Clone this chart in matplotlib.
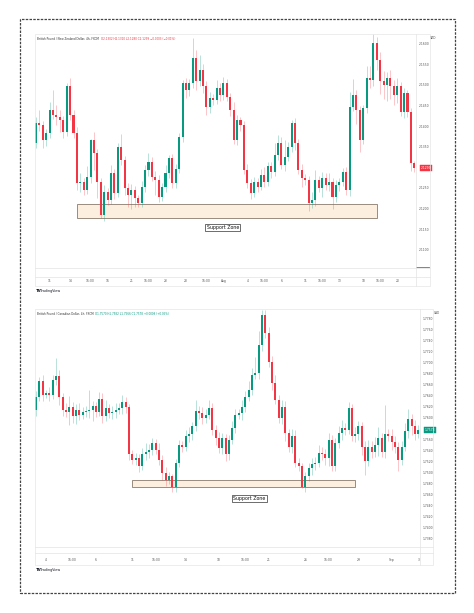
import matplotlib.pyplot as plt
import numpy as np
from matplotlib.patches import Rectangle
from matplotlib.transforms import blended_transform_factory

# ---- GBP/NZD 4h ----
open1 = 2.1358
close1 = [2.1408, 2.1403, 2.1366, 2.1382, 2.1439, 2.1427, 2.1423, 2.1415, 2.1386, 2.1496,
          2.1427, 2.1382, 2.1261, 2.1265, 2.1245, 2.1277, 2.1366, 2.1334, 2.1265, 2.1184,
          2.1241, 2.1221, 2.1285, 2.1237, 2.1350, 2.1318, 2.1249, 2.1233, 2.1245, 2.1225,
          2.1213, 2.1253, 2.1293, 2.1314, 2.1277, 2.1269, 2.1229, 2.1253, 2.1285, 2.1322,
          2.1261, 2.1297, 2.1374, 2.1504, 2.1488, 2.1504, 2.1564, 2.1508, 2.1536, 2.1496,
          2.1447, 2.1467, 2.1463, 2.1492, 2.1475, 2.1504, 2.1471, 2.1439, 2.1366, 2.1415,
          2.1403, 2.1293, 2.1261, 2.1237, 2.1265, 2.1253, 2.1281, 2.1265, 2.1302, 2.1289,
          2.1330, 2.1358, 2.1306, 2.1326, 2.1350, 2.1407, 2.1358, 2.1293, 2.1273, 2.1269,
          2.1213, 2.1221, 2.1269, 2.1249, 2.1273, 2.1257, 2.1265, 2.1229, 2.1257, 2.1265,
          2.1289, 2.1245, 2.1447, 2.1475, 2.1439, 2.1366, 2.1443, 2.1516, 2.1512, 2.1601,
          2.1560, 2.1508, 2.1500, 2.1516, 2.1496, 2.1475, 2.1496, 2.1435, 2.1480, 2.1435,
          2.1310, 2.1299]
# wick lengths in pips
wick_hi1 = [15, 30, 10, 12, 20, 48, 25, 15, 10, 8,
            20, 12, 15, 20, 10, 25, 2, 20, 10, 8,
            15, 10, 20, 12, 8, 30, 10, 12, 15, 10,
            8, 15, 12, 20, 10, 15, 12, 10, 20, 8,
            10, 12, 10, 8, 12, 10, 49, 20, 35, 15,
            12, 15, 10, 20, 12, 15, 10, 10, 20, 12,
            8, 10, 15, 10, 12, 8, 15, 20, 12, 10,
            30, 20, 15, 40, 12, 8, 12, 10, 15, 10,
            10, 20, 25, 10, 15, 12, 20, 10, 12, 8,
            10, 12, 35, 40, 12, 10, 8, 30, 30, 21,
            15, 20, 25, 15, 20, 15, 20, 10, 12, 8,
            8, 5]
wick_lo1 = [12, 15, 20, 15, 10, 10, 20, 30, 15, 10,
            12, 10, 15, 20, 12, 10, 15, 40, 40, 8,
            15, 12, 10, 15, 10, 12, 15, 30, 35, 20,
            10, 8, 12, 15, 10, 35, 12, 10, 12, 10,
            10, 12, 10, 12, 20, 15, 12, 20, 10, 15,
            20, 15, 12, 10, 15, 12, 10, 15, 10, 12,
            15, 10, 12, 15, 10, 12, 8, 12, 10, 15,
            10, 12, 10, 15, 10, 12, 15, 10, 20, 12,
            20, 12, 15, 10, 20, 12, 15, 30, 12, 15,
            10, 12, 15, 10, 35, 30, 10, 12, 20, 15,
            25, 30, 35, 40, 30, 25, 20, 10, 15, 12,
            20, 10]
yticks1 = [2.1600, 2.1550, 2.1500, 2.1450, 2.1400, 2.1350, 2.1250, 2.1200, 2.1150, 2.1100]
xtick_pos1 = [4, 10, 16, 21, 28, 33, 38, 44, 50, 55, 62, 67, 72, 79, 84, 89, 96, 101, 106]
xtick_lab1 = ["11", "14", "16:00", "16", "21", "16:00", "23", "28", "16:00", "Aug",
              "4", "16:00", "6", "11", "16:00", "13", "18", "16:00", "20"]
zone1 = (12.1, 100.0, 2.1178, 2.1212)
title1 = "British Pound / New Zealand Dollar, 4h, FXCM"
ohlc1 = "O2.1302 H2.1310 L2.1280 C2.1299 \u22120.0003 (\u22120.01%)"

# ---- GBP/CAD 4h ----
open2 = 1.7614
close2 = [1.7638, 1.7666, 1.7641, 1.7645, 1.7641, 1.7669, 1.7676, 1.7638, 1.7614, 1.7611,
          1.7620, 1.7603, 1.7614, 1.7605, 1.7611, 1.7612, 1.7614, 1.7621, 1.7611, 1.7634,
          1.7603, 1.7617, 1.7608, 1.7611, 1.7614, 1.7617, 1.7629, 1.7620, 1.7533, 1.7523,
          1.7526, 1.7512, 1.7533, 1.7538, 1.7541, 1.7553, 1.7541, 1.7523, 1.7499, 1.7486,
          1.7493, 1.7474, 1.7518, 1.7550, 1.7547, 1.7567, 1.7570, 1.7584, 1.7612, 1.7608,
          1.7600, 1.7605, 1.7617, 1.7578, 1.7562, 1.7545, 1.7562, 1.7533, 1.7559, 1.7581,
          1.7605, 1.7608, 1.7620, 1.7638, 1.7651, 1.7678, 1.7681, 1.7733, 1.7787, 1.7754,
          1.7702, 1.7663, 1.7632, 1.7600, 1.7620, 1.7572, 1.7547, 1.7567, 1.7518, 1.7512,
          1.7474, 1.7493, 1.7508, 1.7515, 1.7518, 1.7535, 1.7533, 1.7526, 1.7559, 1.7512,
          1.7553, 1.7572, 1.7581, 1.7578, 1.7617, 1.7567, 1.7570, 1.7584, 1.7547, 1.7521,
          1.7547, 1.7538, 1.7550, 1.7562, 1.7538, 1.7570, 1.7567, 1.7556, 1.7547, 1.7523,
          1.7547, 1.7575, 1.7597, 1.7584, 1.7570, 1.7578]
wick_hi2 = [10, 8, 12, 6, 10, 8, 32, 10, 6, 12,
            20, 8, 10, 12, 8, 10, 36, 10, 8, 12,
            10, 15, 8, 10, 12, 10, 12, 8, 5, 8,
            10, 8, 12, 15, 10, 10, 8, 12, 8, 10,
            8, 5, 6, 10, 8, 10, 12, 8, 20, 10,
            12, 10, 15, 10, 8, 12, 10, 8, 10, 12,
            10, 8, 12, 10, 15, 12, 30, 25, 9, 10,
            12, 10, 15, 10, 12, 10, 8, 12, 10, 8,
            6, 8, 10, 12, 10, 15, 12, 10, 12, 10,
            10, 12, 15, 10, 12, 8, 12, 10, 8, 10,
            12, 10, 15, 20, 10, 53, 10, 12, 10, 8,
            10, 15, 18, 10, 12, 8]
wick_lo2 = [12, 8, 10, 6, 10, 8, 10, 15, 12, 10,
            25, 12, 15, 10, 8, 10, 12, 20, 10, 8,
            12, 10, 8, 10, 12, 8, 10, 12, 10, 8,
            10, 12, 8, 10, 12, 10, 8, 10, 12, 10,
            8, 9, 10, 8, 10, 8, 12, 10, 8, 10,
            12, 10, 8, 10, 12, 10, 12, 12, 10, 8,
            10, 8, 12, 10, 8, 10, 8, 10, 12, 8,
            10, 12, 8, 10, 12, 15, 10, 12, 8, 10,
            3, 10, 8, 12, 10, 8, 10, 12, 15, 10,
            10, 8, 12, 10, 8, 10, 12, 10, 15, 25,
            10, 12, 10, 20, 10, 12, 10, 15, 12, 20,
            10, 8, 12, 15, 10, 8]
yticks2 = [1.7780, 1.7760, 1.7740, 1.7720, 1.7700, 1.7680, 1.7660, 1.7640, 1.7620, 1.7600,
           1.7560, 1.7540, 1.7520, 1.7500, 1.7480, 1.7460, 1.7440, 1.7420, 1.7400, 1.7380]
xtick_pos2 = [3, 11, 18, 29, 36, 45, 55, 63, 70, 81, 88, 97, 107, 115]
xtick_lab2 = ["4", "16:00", "6", "11", "16:00", "14", "18", "16:00", "21", "26",
              "16:00", "29", "Sep", "3"]
zone2 = (28.9, 95.8, 1.7473, 1.7486)
title2 = "British Pound / Canadian Dollar, 4h, FXCM"
ohlc2 = "O1.7570 H1.7582 L1.7566 C1.7578 +0.0008 (+0.05%)"

UP = "#089981"
DOWN = "#f23645"
W, H = 474, 613


def box(x0, y0, x1, y1):
    return [x0 / W, 1 - y1 / H, (x1 - x0) / W, (y1 - y0) / H]


def fline(fig, x0, y0, x1, y1, color="#e3e3e3", lw=0.5):
    fig.add_artist(plt.Line2D([x0 / W, x1 / W], [1 - y0 / H, 1 - y1 / H],
                              transform=fig.transFigure, color=color, lw=lw))


def panel(fig, frame, plot, first_open, close, whi, wlo, ylim, xlim, yticks,
          xpos, xlab, zone, zone_lab, title, ohlc, ohlc_col, cur, hsplit):
    fx0, fy0, fx1, fy1 = frame
    px0, py0, px1, py1 = plot
    # outer frame and separators
    fig.add_artist(Rectangle((fx0 / W, 1 - fy1 / H), (fx1 - fx0) / W, (fy1 - fy0) / H,
                             transform=fig.transFigure, fill=False, ec="#e6e6e6", lw=0.5))
    fline(fig, px1, fy0, px1, fy1)
    fline(fig, fx0, py1, fx1, py1)
    fline(fig, fx0, hsplit, fx1, hsplit)

    ax = fig.add_axes(box(px0, py0, px1, py1))
    close = np.array(close)
    opn = np.concatenate([[first_open], close[:-1]])
    hi = np.maximum(opn, close) + np.array(whi) * 1e-4
    lo = np.minimum(opn, close) - np.array(wlo) * 1e-4
    idx = np.arange(len(close))
    col = np.where(close >= opn, UP, DOWN)
    ax.vlines(idx, lo, hi, colors=col, linewidth=0.4, alpha=0.5, zorder=2)
    min_body = (ylim[1] - ylim[0]) / (py1 - py0) * 0.9
    body = np.maximum(np.abs(close - opn), min_body)
    ax.bar(idx, body, bottom=np.minimum(opn, close), width=0.6, color=col,
           linewidth=0, zorder=3)

    ax.add_patch(Rectangle((zone[0], zone[2]), zone[1] - zone[0], zone[3] - zone[2],
                           fc="#fcefe0", ec="#8a7b6c", lw=0.6, zorder=1))
    ax.text(zone_lab[0], zone_lab[1], "Support Zone", ha="center", va="center",
            fontsize=3.4, color="#111111", zorder=5,
            bbox=dict(boxstyle="square,pad=0.25", fc="white", ec="#333333", lw=0.5))

    ax.set_xlim(*xlim)
    ax.set_ylim(*ylim)
    for s in ax.spines.values():
        s.set_visible(False)
    ax.yaxis.tick_right()
    ax.set_yticks(yticks, [f"{v:.4f}" for v in yticks])
    ax.tick_params(axis="y", length=0, pad=2.0, labelsize=2.2, labelcolor="#555555")
    ax.set_xticks(xpos, xlab)
    ax.tick_params(axis="x", length=0, pad=(fy1 - py1) * 0.72 - 5, labelsize=2.2,
                   labelcolor="#555555")

    # last price box
    tr = blended_transform_factory(ax.transAxes, ax.transData)
    ax.text(1.012, close[-1], f"{close[-1]:.4f}", transform=tr, ha="left", va="center",
            fontsize=2.2, color="white", zorder=6, clip_on=False,
            bbox=dict(boxstyle="square,pad=0.35", fc=ohlc_col, ec=ohlc_col, lw=0.3))
    ax.text(1.035, 1.0 - 4 / (py1 - py0), cur, transform=ax.transAxes, ha="left",
            va="center", fontsize=2.2, color="#555555")

    t = ax.text(0.005, 1.0 - 5 / (py1 - py0), title + "  ", transform=ax.transAxes,
                ha="left", va="center", fontsize=2.0, color="#333333")
    ax.annotate(ohlc, xy=(1, 0.5), xycoords=t, ha="left", va="center",
                fontsize=2.0, color=ohlc_col)

    # TradingView logo
    fig.text((fx0 + 0.5) / W, 1 - (fy1 + 5) / H, "TV", fontsize=2.8, weight="bold",
             color="#131722", va="center")
    fig.text((fx0 + 5) / W, 1 - (fy1 + 5) / H, "TradingView", fontsize=2.4,
             color="#131722", va="center")
    return ax


fig = plt.figure(figsize=(W / 100, H / 100), dpi=100)
fig.patch.set_facecolor("white")

fig.add_artist(Rectangle((20 / W, 1 - 593 / H), 435 / W, 574 / H,
                         transform=fig.transFigure, fill=False, ec="#444444",
                         lw=0.9, ls=(0, (2, 1))))

ax1 = panel(fig, (35, 34, 430, 286), (35, 34, 416, 268), open1, close1,
            wick_hi1, wick_lo1, (2.1056, 2.1623), (-0.3, 111.5), yticks1,
            xtick_pos1, xtick_lab1, zone1, (54.8, 2.1154), title1, ohlc1, DOWN,
            "NZD", 277)
ax1.plot([1.0, 1.035], [2.1058, 2.1058], color=DOWN, lw=0.6,
         transform=blended_transform_factory(ax1.transAxes, ax1.transData), clip_on=False)

ax2 = panel(fig, (35, 309, 433, 565), (35, 309, 420, 547), open2, close2,
            wick_hi2, wick_lo2, (1.7364, 1.7798), (-0.3, 115.5), yticks2,
            xtick_pos2, xtick_lab2, zone2, (64.2, 1.7453), title2, ohlc2, UP,
            "CAD", 553)

fig.savefig("out.png", dpi=100)
